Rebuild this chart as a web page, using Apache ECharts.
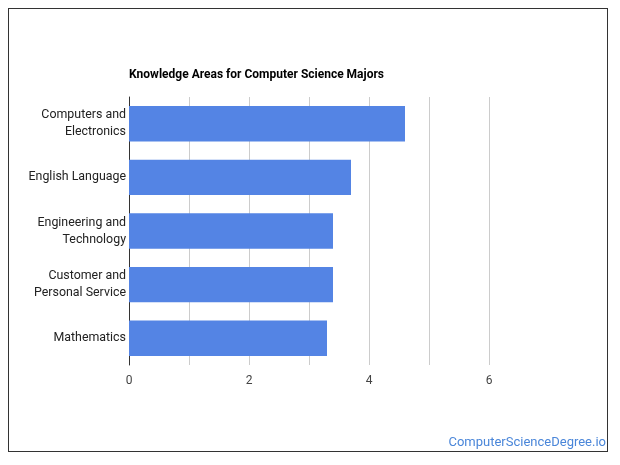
<!DOCTYPE html>
<html>
<head>
<meta charset="utf-8">
<script src="https://cdn.jsdelivr.net/npm/echarts@6/dist/echarts.min.js"></script>
<style>
  body { margin: 0; background: #fff; }
  #frame { position: absolute; left: 8px; top: 8px; width: 600px; height: 444px; border: 1px solid #333; box-sizing: border-box; }
  #chart { width: 620px; height: 465px; }
</style>
</head>
<body>
<div id="frame"></div>
<div id="chart"></div>
<script>
var categories = ['Computers and\nElectronics', 'English Language', 'Engineering and\nTechnology', 'Customer and\nPersonal Service', 'Mathematics'];
var values = [4.6, 3.7, 3.4, 3.4, 3.3];
var tickLabels = { 0: '0', 2: '2', 4: '4', 6: '6' };

var chart = echarts.init(document.getElementById('chart'));
chart.setOption({
  animation: false,
  title: {
    text: 'Knowledge Areas for Computer Science Majors',
    left: 124, top: 64,
    textStyle: { fontFamily: 'Roboto', fontSize: 12, fontWeight: 'bold', color: '#000' }
  },
  graphic: [{
    type: 'text', right: 14, bottom: 16,
    style: { text: 'ComputerScienceDegree.io', fill: '#4a86d9', font: '13px Roboto' }
  }],
  grid: { left: 129, right: 71, top: 97, bottom: 100 },
  xAxis: {
    type: 'value', min: 0, max: 7, interval: 1,
    axisLine: { show: false }, axisTick: { show: false },
    splitLine: { lineStyle: { color: ['#ccc', '#ccc', '#ccc', '#ccc', '#ccc', '#ccc', '#ccc', 'rgba(0,0,0,0)'] } },
    axisLabel: {
      fontFamily: 'Roboto', fontSize: 12, color: '#444', margin: 10,
      formatter: function (v) { return tickLabels[v] || ''; }
    }
  },
  yAxis: {
    type: 'category', data: categories, inverse: true,
    axisLine: { show: true, lineStyle: { color: '#333' } },
    axisTick: { show: false },
    axisLabel: { fontFamily: 'Roboto', fontSize: 12.4, color: '#222', lineHeight: 17, margin: 3 }
  },
  series: [{
    type: 'bar', data: values, barWidth: '66%',
    itemStyle: { color: '#5484e4' }
  }]
});
</script>
</body>
</html>
